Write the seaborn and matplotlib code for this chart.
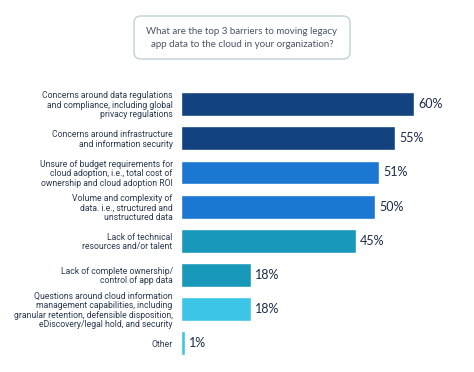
import pandas as pd
import seaborn as sns
import matplotlib.pyplot as plt
from matplotlib.patches import FancyBboxPatch
from matplotlib.transforms import IdentityTransform

categories = [
    "Concerns around data regulations\nand compliance, including global\nprivacy regulations",
    "Concerns around infrastructure\nand information security",
    "Unsure of budget requirements for\ncloud adoption, i.e., total cost of\nownership and cloud adoption ROI",
    "Volume and complexity of\ndata. i.e., structured and\nunstructured data",
    "Lack of technical\nresources and/or talent",
    "Lack of complete ownership/\ncontrol of app data",
    "Questions around cloud information\nmanagement capabilities, including\ngranular retention, defensible disposition,\neDiscovery/legal hold, and security",
    "Other",
]
values = [60, 55, 51, 50, 45, 18, 18, 1]
colors = ["#12437f", "#12437f", "#1b77d2", "#1b77d2", "#1999b9", "#1999b9", "#3cc5e7", "#3cc5e7"]
title = "What are the top 3 barriers to moving legacy\napp data to the cloud in your organization?"

df = pd.DataFrame({"barrier": categories, "pct": values})

sns.set_style("white")
plt.rcParams["font.family"] = ["Roboto", "DejaVu Sans"]

fig = plt.figure(figsize=(4.74, 3.72), dpi=100)
ax = fig.add_axes([0.382, 0.031, 0.574, 0.735])

sns.barplot(data=df, y="barrier", x="pct", hue="barrier", palette=colors,
            legend=False, width=0.7, saturation=1, ax=ax)
ax.set_xlim(0, 70)
ax.set_ylim(7.5, -0.5)
ax.set_xlabel("")
ax.set_ylabel("")
ax.set_xticks([])
sns.despine(ax=ax, left=True, bottom=True)
ax.tick_params(axis="y", length=0, pad=6, labelsize=6.2, labelcolor="#2b3a52")
for lab in ax.get_yticklabels():
    lab.set_linespacing(1.05)

for c in ax.containers:
    ax.bar_label(c, fmt="%g%%", padding=3, fontsize=9, color="#1c2b4a",
                 family=["Lato", "DejaVu Sans"])

box = FancyBboxPatch((134, 313), 216, 43, boxstyle="round,pad=0,rounding_size=7",
                     transform=IdentityTransform(), facecolor="white",
                     edgecolor="#b7ccd6", linewidth=0.9)
fig.patches.append(box)
fig.text(242 / 474, 1 - 38 / 372, title, ha="center", va="center", fontsize=7,
         color="#4a5566", linespacing=1.6, family=["Lato", "DejaVu Sans"])

fig.savefig("out.png", dpi=100)
